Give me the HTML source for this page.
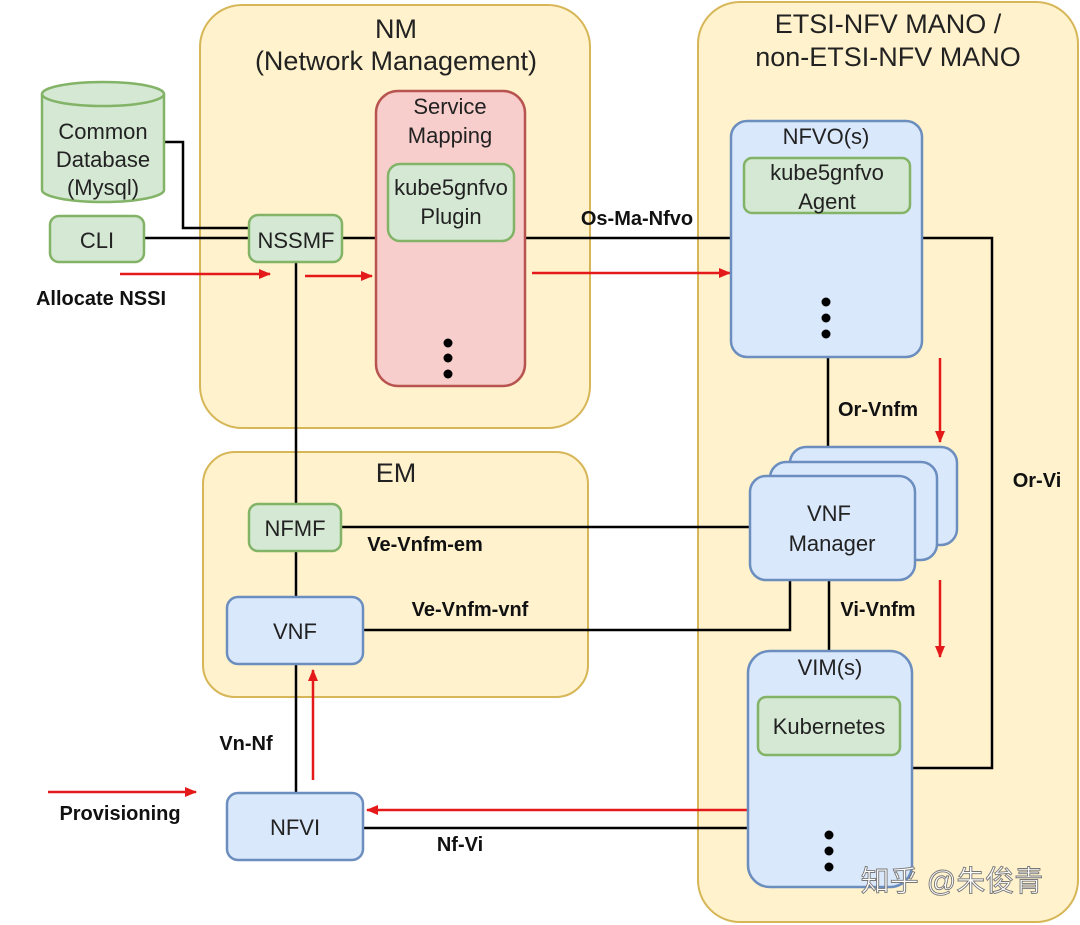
<!DOCTYPE html>
<html><head><meta charset="utf-8"><style>body{margin:0;background:#fff}svg{display:block}</style></head><body>
<svg width="1080" height="925" xmlns="http://www.w3.org/2000/svg" font-family="Liberation Sans, sans-serif">
<defs><marker id="a" markerWidth="12" markerHeight="10" refX="11" refY="5" orient="auto" markerUnits="userSpaceOnUse"><path d="M0,0 L12,5 L0,10 Z" fill="#e41a1a"/></marker></defs>
<rect width="1080" height="925" fill="#fff"/>
<rect x="200" y="5" width="390" height="423" rx="42" fill="#fff2cc" stroke="#d6b656" stroke-width="2"/>
<rect x="698" y="2" width="380" height="920" rx="42" fill="#fff2cc" stroke="#d6b656" stroke-width="2"/>
<rect x="203" y="452" width="385" height="245" rx="32" fill="#fff2cc" stroke="#d6b656" stroke-width="2"/>
<g font-size="27" fill="#222" text-anchor="middle">
<text x="396" y="38">NM</text><text x="396" y="70">(Network Management)</text>
<text x="888" y="33">ETSI-NFV MANO /</text><text x="888" y="66">non-ETSI-NFV MANO</text>
<text x="396" y="482">EM</text></g>
<g stroke="#000" stroke-width="2.5" fill="none">
<path d="M164,142 H183 V228 H249"/>
<path d="M144,238 H249"/>
<path d="M342,238 H376"/><path d="M525,238 H731"/>
<path d="M296,262 V504"/><path d="M296,551 V597"/><path d="M296,664 V793"/>
<path d="M828,357 V447"/><path d="M922,238 H992 V768 H912"/>
<path d="M341,527 H750"/><path d="M363,630 H790 V580"/>
<path d="M829,580 V651"/><path d="M363,828 H748"/>
</g>
<g stroke="#e41a1a" stroke-width="2.5" marker-end="url(#a)">
<line x1="120" y1="274" x2="270" y2="274"/><line x1="305" y1="276" x2="372" y2="276"/>
<line x1="532" y1="273" x2="730" y2="273"/><line x1="940" y1="358" x2="940" y2="442"/>
<line x1="940" y1="580" x2="940" y2="657"/><line x1="748" y1="810" x2="367" y2="810"/>
<line x1="313" y1="780" x2="313" y2="670"/><line x1="48" y1="792" x2="196" y2="792"/>
</g>
<path d="M42,94 V190 A61,12 0 0 0 164,190 V94" fill="#d5e8d4" stroke="#82b366" stroke-width="2.5"/>
<ellipse cx="103" cy="94" rx="61" ry="12" fill="#d5e8d4" stroke="#82b366" stroke-width="2.5"/>
<g fill="#d5e8d4" stroke="#82b366" stroke-width="2.5">
<rect x="50" y="216" width="94" height="46" rx="9"/><rect x="249" y="215" width="93" height="47" rx="9"/>
<rect x="249" y="504" width="92" height="47" rx="9"/></g>
<rect x="376" y="91" width="149" height="295" rx="22" fill="#f8cecc" stroke="#b85450" stroke-width="2.5"/>
<rect x="388" y="164" width="126" height="77" rx="12" fill="#d5e8d4" stroke="#82b366" stroke-width="2.5"/>
<g fill="#dae8fc" stroke="#6c8ebf" stroke-width="2.5">
<rect x="731" y="121" width="191" height="236" rx="16"/>
<rect x="790" y="447" width="167" height="98" rx="16"/><rect x="770" y="462" width="167" height="98" rx="16"/>
<rect x="750" y="476" width="165" height="104" rx="16"/>
<rect x="748" y="651" width="164" height="236" rx="22"/>
<rect x="227" y="597" width="136" height="67" rx="11"/><rect x="227" y="793" width="136" height="67" rx="11"/></g>
<g fill="#d5e8d4" stroke="#82b366" stroke-width="2.5">
<rect x="744" y="158" width="166" height="55" rx="8"/><rect x="758" y="697" width="142" height="58" rx="8"/></g>
<g font-size="22" fill="#222" text-anchor="middle">
<text x="103" y="139">Common</text><text x="103" y="167">Database</text><text x="103" y="195">(Mysql)</text>
<text x="97" y="248">CLI</text><text x="296" y="248">NSSMF</text>
<text x="450" y="114">Service</text><text x="450" y="143">Mapping</text>
<text x="451" y="195">kube5gnfvo</text><text x="451" y="224">Plugin</text>
<text x="826" y="144">NFVO(s)</text><text x="827" y="180">kube5gnfvo</text><text x="827" y="209">Agent</text>
<text x="829" y="521">VNF</text><text x="832" y="551">Manager</text>
<text x="830" y="675">VIM(s)</text><text x="829" y="734">Kubernetes</text>
<text x="295" y="536">NFMF</text><text x="295" y="639">VNF</text><text x="295" y="835">NFVI</text>
</g>
<g font-size="20" font-weight="bold" fill="#111" text-anchor="middle">
<text x="101" y="305">Allocate NSSI</text><text x="637" y="225">Os-Ma-Nfvo</text>
<text x="878" y="416">Or-Vnfm</text><text x="1037" y="487">Or-Vi</text>
<text x="425" y="551">Ve-Vnfm-em</text><text x="470" y="616">Ve-Vnfm-vnf</text>
<text x="878" y="616">Vi-Vnfm</text><text x="246" y="750">Vn-Nf</text>
<text x="120" y="820">Provisioning</text><text x="460" y="851">Nf-Vi</text>
</g>
<g fill="#000">
<circle cx="448" cy="343" r="4.5"/><circle cx="448" cy="358" r="4.5"/><circle cx="448" cy="374" r="4.5"/>
<circle cx="826" cy="302" r="4.5"/><circle cx="826" cy="318" r="4.5"/><circle cx="826" cy="334" r="4.5"/>
<circle cx="829" cy="835" r="4.5"/><circle cx="829" cy="851" r="4.5"/><circle cx="829" cy="867" r="4.5"/>
</g>
<text x="952" y="891" font-size="29" text-anchor="middle" fill="#fff" stroke="#777" stroke-width="0.9" font-family="Liberation Sans, Noto Sans CJK SC, sans-serif">知乎 @朱俊青</text>
</svg>
</body></html>
